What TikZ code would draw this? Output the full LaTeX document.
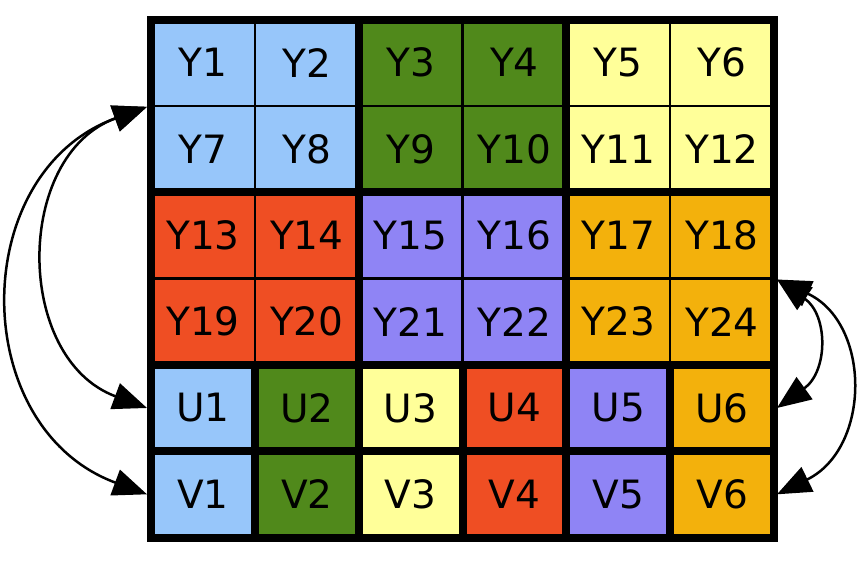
\documentclass[tikz,border=0pt]{standalone}
\usepackage{fontspec}
\setmainfont{DejaVu Sans}
\usetikzlibrary{arrows.meta}
\definecolor{cblue}{HTML}{97C6FA}
\definecolor{cgreen}{HTML}{50891B}
\definecolor{cyellow}{HTML}{FFFF99}
\definecolor{cred}{HTML}{EF4E23}
\definecolor{cpurple}{HTML}{8F84F5}
\definecolor{corange}{HTML}{F3B10C}
\begin{document}
\begin{tikzpicture}[x=1pt,y=-1pt,
  cell/.style={minimum width=103.83pt,minimum height=86.33pt,inner sep=0pt,outer sep=0pt,
    font=\fontsize{39}{40}\selectfont,text=black},
  thinline/.style={line width=2.2pt,black},
  thickline/.style={line width=8pt,black},
  link/.style={line width=2.5pt,black,{Triangle[length=34pt,width=27pt]}-{Triangle[length=34pt,width=27pt]}}]
\useasboundingbox (0,0) rectangle (867,562);
\fill[white] (0,0) rectangle (867,562);
% Y cells
\foreach \r in {0,...,3}{
  \foreach \c in {0,...,5}{
    \pgfmathtruncatemacro\n{\r*6+\c+1}
    \pgfmathtruncatemacro\b{int(\r/2)*3+int(\c/2)}
    \pgfmathsetmacro\col{{"cblue","cgreen","cyellow","cred","cpurple","corange"}[\b]}
    \node[cell,fill=\col] (Y\n) at ({151+(\c+0.5)*103.83},{19.5+(\r+0.5)*86.33}) {Y\n};
  }
}
% U and V cells
\foreach \c/\col [count=\i] in {0/cblue,1/cgreen,2/cyellow,3/cred,4/cpurple,5/corange}{
  \node[cell,fill=\col] (U\i) at ({151+(\c+0.5)*103.83},{19.5+4.5*86.33}) {U\i};
  \node[cell,fill=\col] (V\i) at ({151+(\c+0.5)*103.83},{19.5+5.5*86.33}) {V\i};
}
% thin lines inside blocks
\draw[thinline] (151,105.83) -- (774,105.83);
\draw[thinline] (151,278.5) -- (774,278.5);
\foreach \x in {254.83,462.5,670.17}{
  \draw[thinline] (\x,19.5) -- (\x,364.83);
}
% thick lines
\foreach \x in {358.67,566.33}{
  \draw[thickline] (\x,19.5) -- (\x,537.5);
}
\foreach \x in {254.83,462.5,670.17}{
  \draw[thickline] (\x,364.83) -- (\x,537.5);
}
\foreach \y in {192.17,364.83,451.17}{
  \draw[thickline] (151,\y) -- (774,\y);
}
\draw[thickline] (151,19.5) rectangle (774,537.5);
% connectors
\coordinate (lt) at ([xshift=-4pt,yshift=-1pt]Y7.north west);
\coordinate (lu) at ([xshift=-4pt]U1.west);
\coordinate (lv) at ([xshift=-4pt]V1.west);
\coordinate (rt) at ([xshift=3pt,yshift=-1pt]Y24.north east);
\coordinate (ru) at ([xshift=3pt]U6.east);
\coordinate (rv) at ([xshift=3pt]V6.east);
\draw[link] (lt) .. controls (14,155.3) and (14,358.7) .. (lu);
\draw[link] (lt) .. controls (-33,172.3) and (-33,427.7) .. (lv);
\draw[link] (rt) .. controls (828.3,314.9) and (828.3,371.1) .. (ru);
\draw[link] (rt) .. controls (871.3,322.9) and (871.3,448.1) .. (rv);
\end{tikzpicture}
\end{document}
